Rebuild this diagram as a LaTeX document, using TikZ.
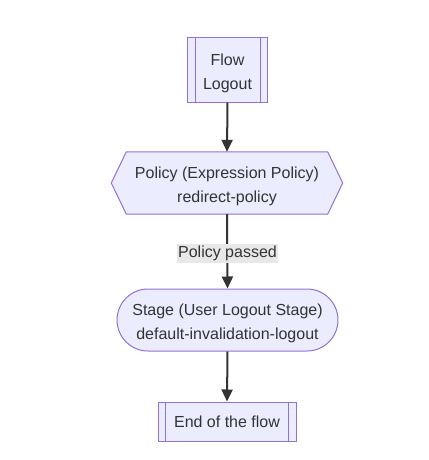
\documentclass[tikz,border=0pt]{standalone}
\usepackage{fontspec}
\setmainfont{Liberation Sans}
\usetikzlibrary{arrows.meta,shapes.misc}
\definecolor{nodefill}{HTML}{ECECFF}
\definecolor{nodestroke}{HTML}{9370DB}
\definecolor{txt}{HTML}{333333}
\definecolor{lblbg}{HTML}{E8E8E8}
\newcommand{\padtopline}{\rule{0pt}{17.5pt}}
\begin{document}
\begin{tikzpicture}[x=1pt,y=-1pt,
  every node/.style={font=\fontsize{16}{24}\selectfont, text=txt, align=center, inner sep=0pt},
  subr/.style={rectangle, fill=nodefill, draw=nodestroke, line width=1pt},
  hexbase/.style={rectangle, draw=none},
  stad/.style={rounded rectangle, fill=nodefill, draw=nodestroke, line width=1pt},
  conn/.style={draw=txt, line width=2pt, -{Triangle[length=12pt,width=11pt]}},
  lbl/.style={fill=lblbg, inner xsep=1pt, inner ysep=2pt}
]
\useasboundingbox (0,0) rectangle (428,460);
% Flow Logout
\node[subr, minimum width=80, minimum height=64] (flow) at (227.5,70) {\padtopline Flow\\Logout};
\draw[nodestroke, line width=1pt] ([xshift=8]flow.north west) -- ([xshift=8]flow.south west)
  ([xshift=-8]flow.north east) -- ([xshift=-8]flow.south east);
% Policy hexagon
\node[hexbase, minimum width=201, minimum height=62] (pol) at (227,183) {};
\draw[fill=nodefill, draw=nodestroke, line width=1pt] (pol.north west) -- (pol.north east) -- ([xshift=15]pol.east) -- (pol.south east) -- (pol.south west) -- ([xshift=-15]pol.west) -- cycle;
\node (poltext) at (pol.center) {\padtopline Policy (Expression Policy)\\redirect-policy};
% Stage
\node[stad, minimum width=221, minimum height=62] (stage) at (227.5,320) {\padtopline Stage (User Logout Stage)\\default-invalidation-logout};
% End
\node[subr, minimum width=138, minimum height=39] (end) at (227,421.5) {End of the flow};
\draw[nodestroke, line width=1pt] ([xshift=8]end.north west) -- ([xshift=8]end.south west)
  ([xshift=-8]end.north east) -- ([xshift=-8]end.south east);
% connectors
\draw[conn] (flow.south) -- (pol.north);
\draw[conn] (pol.south) -- (stage.north);
\node[lbl] (lab) at (227.5,253.5) {Policy passed};
\draw[conn] (stage.south) -- (end.north);
\end{tikzpicture}
\end{document}
